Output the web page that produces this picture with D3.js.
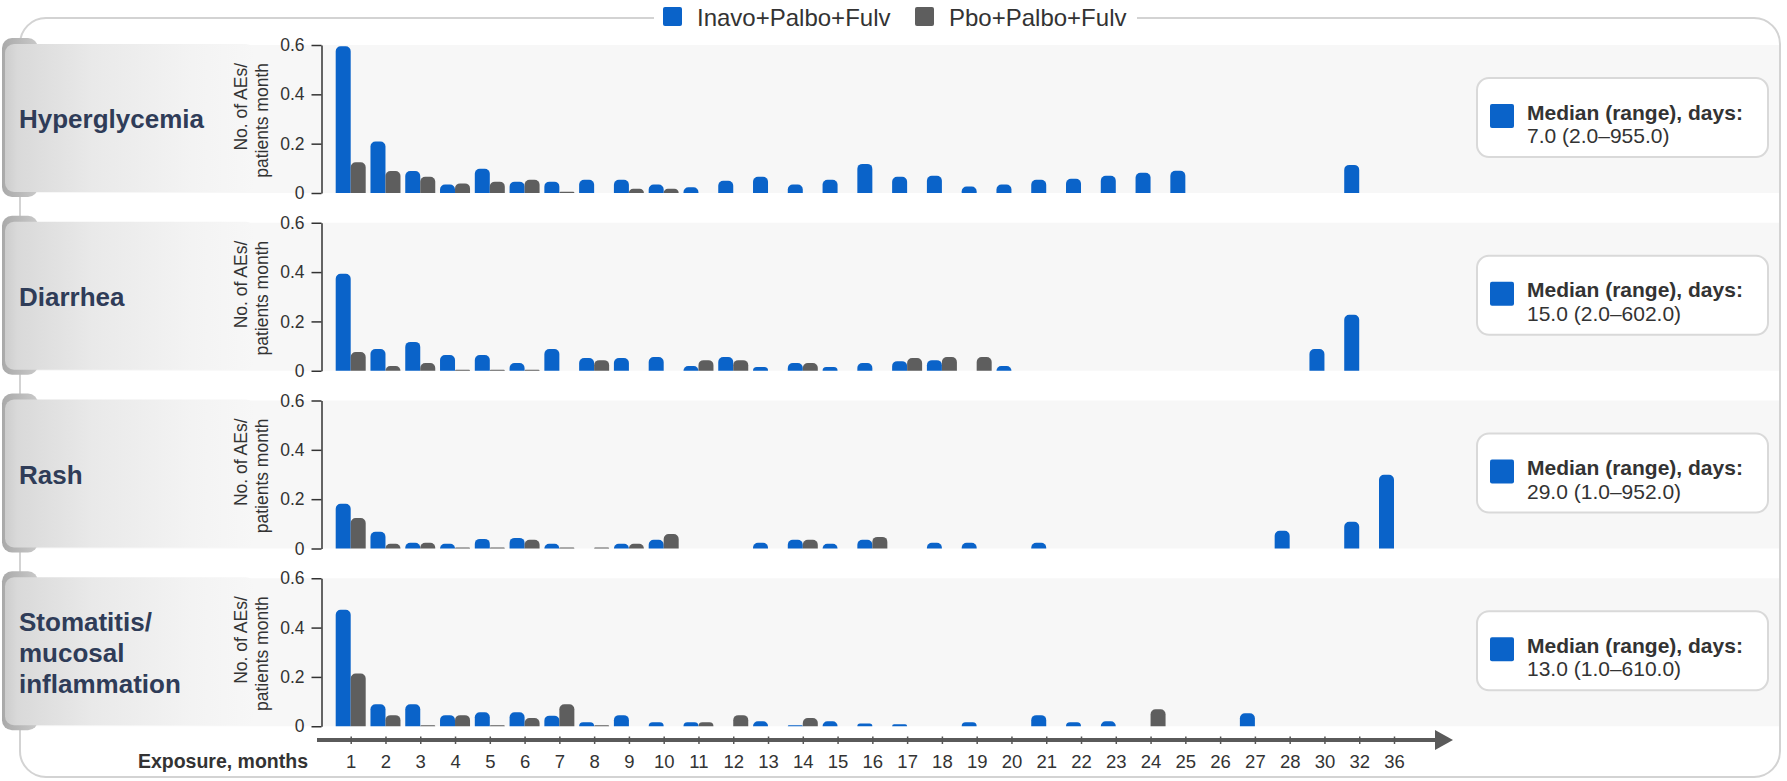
<!DOCTYPE html>
<html>
<head>
<meta charset="utf-8">
<script src="https://cdn.jsdelivr.net/npm/d3@7"></script>
<style>
  body { margin: 0; background: #fff; }
  svg { display: block; font-family: "Liberation Sans", Arial, Helvetica, sans-serif; }
</style>
</head>
<body>
<svg id="chart" width="1787" height="781"></svg>
<script>
// ---------------- DATA ----------------
const categories = ["1","2","3","4","5","6","7","8","9","10","11","12","13","14","15","16","17","18","19","20","21","22","23","24","25","26","27","28","30","32","36"];
const seriesNames = ["Inavo+Palbo+Fulv", "Pbo+Palbo+Fulv"];
const panelLabels = [["Hyperglycemia"], ["Diarrhea"], ["Rash"], ["Stomatitis/", "mucosal", "inflammation"]];
const medianTitle = "Median (range), days:";
const medianValues = ["7.0 (2.0\u2013955.0)", "15.0 (2.0\u2013602.0)", "29.0 (1.0\u2013952.0)", "13.0 (1.0\u2013610.0)"];
const yTickValues = [0, 0.2, 0.4, 0.6];
const yTitleLines = ["No. of AEs/", "patients month"];
const xTitle = "Exposure, months";

const hyperInavo = [0.595,0.209,0.089,0.034,0.098,0.046,0.046,0.054,0.054,0.034, 0.023,0.050,0.066,0.034,0.054,0.118,0.066,0.070,0.026,0.034, 0.054,0.058,0.070,0.082,0.090, 0,0,0, 0,0.114,0];
const hyperPbo   = [0.125,0.089,0.066,0.039,0.046,0.054,0.005,0,0.017,0.017, 0,0,0,0,0,0,0,0,0,0, 0,0,0,0,0, 0,0,0, 0,0,0];
const diarInavo  = [0.393,0.088,0.117,0.064,0.064,0.031,0.088,0.052,0.052,0.056, 0.019,0.056,0.015,0.031,0.015,0.031,0.039,0.043,0,0.019, 0,0,0,0,0, 0,0,0, 0.088,0.227,0];
const diarPbo    = [0.076,0.019,0.031,0.003,0.003,0.003,0,0.043,0,0, 0.043,0.043,0,0.031,0,0,0.052,0.056,0.056,0, 0,0,0,0,0, 0,0,0, 0,0,0];
const rashInavo  = [0.181,0.068,0.023,0.019,0.039,0.043,0.019,0,0.019,0.035, 0,0,0.023,0.035,0.019,0.035,0,0.023,0.023,0, 0.023,0,0,0,0, 0,0,0.072, 0,0.108,0.299];
const rashPbo    = [0.124,0.019,0.023,0.004,0.004,0.035,0.004,0.004,0.019,0.059, 0,0,0,0.035,0,0.047,0,0,0,0, 0,0,0,0,0, 0,0,0, 0,0,0];
const stomInavo  = [0.472,0.089,0.089,0.045,0.057,0.057,0.043,0.016,0.045,0.016, 0.016,0,0.020,0.002,0.020,0.011,0.008,0,0.016,0, 0.045,0.016,0.020,0,0, 0,0.053,0, 0,0,0];
const stomPbo    = [0.214,0.045,0.002,0.045,0.002,0.033,0.089,0.002,0,0, 0.016,0.045,0,0.033,0,0,0,0,0,0, 0,0,0,0.069,0, 0,0,0, 0,0,0];

const inavoSeries = [hyperInavo, diarInavo, rashInavo, stomInavo];
const pboSeries   = [hyperPbo, diarPbo, rashPbo, stomPbo];

// ---------------- STYLE ----------------
const BLUE = "#0a63c9", GREY = "#5e5e5e", TEXT = "#333", LABEL = "#2f3c58";
const panelTop0 = 45, panelStep = 177.75, panelH = 148;
const barW = 15;

const svg = d3.select("#chart");
const defs = svg.append("defs");
const tg = defs.append("linearGradient").attr("id", "tabGrad").attr("x1", 0).attr("x2", 1).attr("y1", 0).attr("y2", 0);
[[0, "#cdcdcd"], [0.05, "#d9d9d9"], [0.35, "#e9e9e9"], [0.75, "#f3f3f3"], [1, "#f7f7f7"]].forEach(([o, c]) => tg.append("stop").attr("offset", o).attr("stop-color", c));
const sg = defs.append("linearGradient").attr("id", "shGrad").attr("x1", 0).attr("x2", 1).attr("y1", 0).attr("y2", 0);
[[0, "#a9a9a9"], [1, "#c9c9c9"]].forEach(([o, c]) => sg.append("stop").attr("offset", o).attr("stop-color", c));

// outer frame
svg.append("rect").attr("x", 20).attr("y", 18).attr("width", 1760).attr("height", 759)
  .attr("rx", 26).attr("fill", "#fff").attr("stroke", "#d3d3d3").attr("stroke-width", 2);

const x = d3.scalePoint().domain(categories).range([350.7, 1394]);

function barPath(x0, w, yb, yt) {
  let h = yb - yt;
  if (h < 1) { h = 1; yt = yb - 1; }
  const r = Math.min(5, h, w / 2);
  return `M${x0},${yb}V${yt + r}A${r},${r} 0 0 1 ${x0 + r},${yt}H${x0 + w - r}A${r},${r} 0 0 1 ${x0 + w},${yt + r}V${yb}Z`;
}

panelLabels.forEach((lbl, i) => {
  const top = panelTop0 + i * panelStep, bottom = top + panelH, mid = (top + bottom) / 2;
  const g = svg.append("g");
  // background band
  g.append("rect").attr("x", 21).attr("y", top).attr("width", 1758).attr("height", panelH).attr("fill", "#f7f7f7");
  // tab shadow + tab
  g.append("rect").attr("x", 2).attr("y", top - 7).attr("width", 36).attr("height", panelH + 11).attr("rx", 10).attr("fill", "url(#shGrad)");
  g.append("rect").attr("x", 5).attr("y", top - 1).attr("width", 250).attr("height", panelH).attr("rx", 9).attr("fill", "url(#tabGrad)");
  // tab label
  const lh = 31;
  const t = g.append("text").attr("x", 19).attr("font-size", 26).attr("font-weight", "bold").attr("fill", LABEL);
  lbl.forEach((s, k) => {
    t.append("tspan").attr("x", 19).attr("y", mid + 9.3 + (k - (lbl.length - 1) / 2) * lh).text(s);
  });

  // y scale & axis
  const y = d3.scaleLinear().domain([0, 0.6]).range([bottom, top]);
  const ya = g.append("g").attr("transform", "translate(321.5,0)")
    .call(d3.axisLeft(y).tickValues(yTickValues).tickSize(10).tickPadding(7).tickSizeOuter(0)
      .tickFormat(d => d === 0 ? "0" : d.toFixed(1)));
  ya.attr("font-family", null).attr("font-size", 17.5);
  ya.select(".domain").attr("stroke", "#333").attr("stroke-width", 1.5);
  ya.selectAll(".tick line").attr("stroke", "#333").attr("stroke-width", 1.5);
  ya.selectAll(".tick text").attr("fill", TEXT);

  // y title
  const yt = g.append("text").attr("transform", `translate(247,${top + 18}) rotate(-90)`)
    .attr("text-anchor", "end").attr("font-size", 17.5).attr("fill", TEXT);
  yTitleLines.forEach((s, k) => yt.append("tspan").attr("x", 0).attr("dy", k === 0 ? 0 : 21).text(s));

  // bars
  const inv = inavoSeries[i], pbo = pboSeries[i];
  g.append("g").selectAll("path").data(categories.map((c, k) => ({ c, v: inv[k] })).filter(d => d.v > 0))
    .join("path").attr("fill", BLUE)
    .attr("d", d => barPath(x(d.c) - barW, barW, y(0), y(d.v)));
  g.append("g").selectAll("path").data(categories.map((c, k) => ({ c, v: pbo[k] })).filter(d => d.v > 0))
    .join("path").attr("fill", GREY)
    .attr("d", d => barPath(x(d.c), barW, y(0), y(d.v)));

  // median box
  g.append("rect").attr("x", 1477).attr("y", mid - 41).attr("width", 291).attr("height", 79).attr("rx", 12)
    .attr("fill", "#fff").attr("stroke", "#d9d9d9").attr("stroke-width", 2);
  g.append("rect").attr("x", 1490).attr("y", mid - 15).attr("width", 24).attr("height", 24).attr("rx", 2).attr("fill", BLUE);
  g.append("text").attr("x", 1527).attr("y", mid + 0.5).attr("font-size", 21).attr("font-weight", "bold").attr("fill", TEXT).text(medianTitle);
  g.append("text").attr("x", 1527).attr("y", mid + 24).attr("font-size", 21).attr("fill", TEXT).text(medianValues[i]);
});

// x axis with arrow
svg.append("line").attr("x1", 317).attr("x2", 1437).attr("y1", 740).attr("y2", 740)
  .attr("stroke", "#5a5a5a").attr("stroke-width", 4);
svg.append("path").attr("d", "M1435,730L1453,740L1435,750Z").attr("fill", "#5a5a5a");
const gx = svg.append("g").attr("transform", "translate(0,736.5)")
  .call(d3.axisBottom(x).tickSize(7.5).tickPadding(11).tickSizeOuter(0));
gx.attr("font-family", null).attr("font-size", 18.5);
gx.select(".domain").remove();
gx.selectAll(".tick line").attr("stroke", "#555").attr("stroke-width", 1.5);
gx.selectAll(".tick text").attr("fill", TEXT);
svg.append("text").attr("x", 308).attr("y", 768).attr("text-anchor", "end")
  .attr("font-size", 19.5).attr("font-weight", "bold").attr("fill", TEXT).text(xTitle);

// legend on top border
svg.append("rect").attr("x", 654).attr("y", 0).attr("width", 483).attr("height", 36).attr("fill", "#fff");
const legX = [663, 915];
seriesNames.forEach((s, k) => {
  svg.append("rect").attr("x", legX[k]).attr("y", 7).attr("width", 19).attr("height", 19).attr("rx", 2)
    .attr("fill", k === 0 ? BLUE : GREY);
  svg.append("text").attr("x", legX[k] + 34).attr("y", 26).attr("font-size", 24).attr("fill", TEXT).text(s);
});
</script>
</body>
</html>
